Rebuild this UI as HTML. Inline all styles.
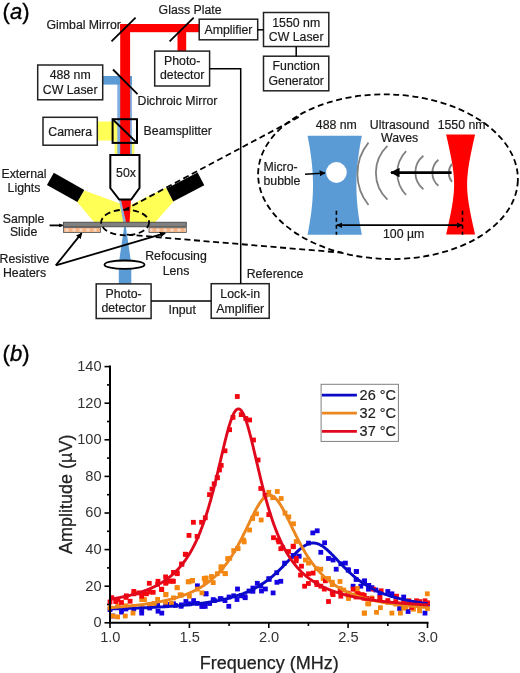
<!DOCTYPE html>
<html><head><meta charset="utf-8"><style>
html,body{margin:0;padding:0;background:#fff;}
svg{display:block;}
text{font-family:"Liberation Sans",Arial,sans-serif;}
</style></head><body>
<svg width="520" height="673" viewBox="0 0 520 673">
<rect width="520" height="673" fill="#fff"/>

<text x="2.6" y="18.9" font-size="22" stroke="#000" stroke-width="0.35">(<tspan font-style="italic">a</tspan>)</text>

<!-- yellow light beams -->
<polygon points="84.4,190.6 118.4,203 125,205.5 125,222.5 94.5,222.5 76.9,201.7" fill="#FFFF55"/>
<polygon points="166,187.7 131.5,204.5 125,206 125,222.5 155,222.5 173.5,201.5" fill="#FFFF55"/>
<!-- camera yellow -->
<rect x="97" y="121.5" width="23" height="19" fill="#FFFF55"/>
<rect x="114.6" y="121.5" width="5.5" height="34" fill="#FFFF66"/>
<rect x="130" y="143" width="4.4" height="13" fill="#FFFF66"/>
<!-- blue beam -->
<rect x="102.7" y="76" width="28.8" height="8.6" fill="#5B9BD5"/>
<rect x="117.3" y="84" width="14.6" height="72" fill="#7FAEE0"/>
<rect x="117.3" y="76" width="14.6" height="8.6" fill="#5B9BD5"/>
<!-- red beams -->
<rect x="120.2" y="24" width="79" height="8.2" fill="#FF0000"/>
<rect x="120.2" y="24" width="9.9" height="132" fill="#FF0000"/>
<rect x="177.5" y="24" width="8.7" height="27.5" fill="#FF0000"/>
<!-- cone under objective -->
<polygon points="118.8,199 122,199 126.2,222 123.2,222" fill="#8FB0D8"/>
<polygon points="120.8,199 131,199 129.6,222 126,222" fill="#FF0000"/>
<!-- blue after slide -->
<polygon points="124.1,227 125.9,227 131,262 119,262" fill="#5B9BD5"/>
<rect x="118.8" y="262" width="12.5" height="22" fill="#5B9BD5"/>

<!-- mirrors -->
<g stroke="#000" stroke-width="1.8" fill="none">
<line x1="111.5" y1="41.3" x2="135.6" y2="17.7"/>
<line x1="169.6" y1="41.3" x2="193.7" y2="17.7"/>
<line x1="113" y1="69.5" x2="137.5" y2="94.2"/>
</g>
<!-- beamsplitter -->
<g stroke="#000" stroke-width="2" fill="none">
<rect x="112.6" y="119.2" width="24.4" height="23.7"/>
<line x1="112.6" y1="119.2" x2="137" y2="142.9"/>
</g>

<!-- boxes -->
<g stroke="#222" stroke-width="1.5" fill="#fff">
<rect x="199.2" y="19.2" width="58.5" height="20.6"/>
<rect x="263.5" y="12.5" width="65.3" height="34"/>
<rect x="263.5" y="56.2" width="65.3" height="34.6"/>
<rect x="154.7" y="51.1" width="54.9" height="34.9"/>
<rect x="37.7" y="65" width="65" height="34.8"/>
<rect x="43" y="117.3" width="54.3" height="27.9"/>
<rect x="96.2" y="283.9" width="54.9" height="34.6"/>
<rect x="211.2" y="283.7" width="58" height="34.6"/>
</g>
<g stroke="#000" stroke-width="1.5" fill="none">
<line x1="257.7" y1="29.8" x2="263.5" y2="29.8"/>
<line x1="296.2" y1="46.5" x2="296.2" y2="56.2"/>
<polyline points="209.6,68.7 240.7,68.7 240.7,283.7"/>
<line x1="151.1" y1="300.9" x2="211.2" y2="300.9"/>
</g>

<!-- objective -->
<path d="M110.3,155 L139.5,155 L139.5,188 L131.2,199.6 L119.2,199.6 L110.3,188 Z" fill="#fff" stroke="#000" stroke-width="2"/>

<!-- external lights -->
<rect x="-17.5" y="-7" width="35" height="14" fill="#000" transform="translate(65.6,187.4) rotate(29.5)"/>
<rect x="-17.5" y="-7" width="35" height="14.5" fill="#000" transform="translate(185.3,186.7) rotate(-27.5)"/>

<!-- slide and heaters -->
<defs>
<pattern id="ht" x="63.5" y="227.5" width="7" height="5" patternUnits="userSpaceOnUse">
<rect width="7" height="5" fill="#F4B183"/>
<circle cx="3.5" cy="2.6" r="1.8" fill="#FBD9C0"/>
</pattern>
</defs>
<rect x="63.5" y="222.2" width="122.8" height="4.6" fill="#808080" stroke="#404040" stroke-width="0.8"/>
<rect x="63.5" y="227.5" width="36.9" height="5" fill="url(#ht)" stroke="#505050" stroke-width="0.8"/>
<rect x="149" y="227.7" width="37.3" height="4.8" fill="url(#ht)" stroke="#505050" stroke-width="0.8"/>

<!-- lens -->
<ellipse cx="124.5" cy="264.7" rx="20" ry="4.2" fill="#fff" stroke="#000" stroke-width="1.8"/>

<!-- arrows -->
<defs>
<marker id="ah" viewBox="0 0 10 10" refX="9" refY="5" markerWidth="4" markerHeight="4" orient="auto-start-reverse" markerUnits="userSpaceOnUse">
<path d="M0,0 L10,5 L0,10 z" fill="#000"/>
</marker>
<marker id="ahb" viewBox="0 0 10 10" refX="9" refY="5" markerWidth="9.5" markerHeight="9.5" orient="auto-start-reverse" markerUnits="userSpaceOnUse">
<path d="M0,0 L10,5 L0,10 z" fill="#000"/>
</marker>
<marker id="ahm" viewBox="0 0 10 10" refX="9" refY="5" markerWidth="6" markerHeight="6" orient="auto-start-reverse" markerUnits="userSpaceOnUse">
<path d="M0,0 L10,5 L0,10 z" fill="#000"/>
</marker>
</defs>
<g stroke="#000" stroke-width="1.8" fill="none">
<line x1="49.6" y1="225.4" x2="62.7" y2="225.4" marker-end="url(#ah)"/>
<line x1="55.8" y1="265.4" x2="81.7" y2="233.1" marker-end="url(#ahm)"/>
<line x1="55.8" y1="265.4" x2="165.2" y2="233.1" marker-end="url(#ahm)"/>
</g>

<!-- dashed ellipses / lines -->
<g stroke="#000" stroke-width="1.8" fill="none" stroke-dasharray="6,3.6">
<ellipse cx="125.1" cy="222.5" rx="24" ry="12.8"/>
<line x1="124" y1="210.2" x2="300" y2="116.4"/>
<line x1="127" y1="234.6" x2="342" y2="252.7"/>
<ellipse cx="0" cy="0" rx="129.9" ry="82.3" transform="translate(388,176.7) rotate(1.68)"/>
</g>

<!-- inset: 488 beam -->
<polygon points="307.54,135.70 308.02,138.17 308.49,140.65 308.94,143.12 309.37,145.60 309.78,148.07 310.17,150.55 310.54,153.02 310.89,155.50 311.21,157.97 311.51,160.45 311.79,162.92 312.04,165.40 312.26,167.88 312.45,170.35 312.62,172.82 312.76,175.30 312.86,177.77 312.94,180.25 312.98,182.72 313.00,185.20 312.98,187.67 312.94,190.15 312.86,192.62 312.76,195.10 312.62,197.57 312.45,200.05 312.26,202.52 312.04,205.00 311.79,207.47 311.51,209.95 311.21,212.42 310.89,214.90 310.54,217.38 310.17,219.85 309.78,222.32 309.37,224.80 308.94,227.27 308.49,229.75 308.02,232.22 307.54,234.70 361.86,234.70 361.38,232.22 360.91,229.75 360.46,227.27 360.03,224.80 359.62,222.32 359.23,219.85 358.86,217.38 358.51,214.90 358.19,212.42 357.89,209.95 357.61,207.47 357.36,205.00 357.14,202.52 356.95,200.05 356.78,197.57 356.64,195.10 356.54,192.62 356.46,190.15 356.42,187.67 356.40,185.20 356.42,182.72 356.46,180.25 356.54,177.77 356.64,175.30 356.78,172.82 356.95,170.35 357.14,167.88 357.36,165.40 357.61,162.92 357.89,160.45 358.19,157.97 358.51,155.50 358.86,153.02 359.23,150.55 359.62,148.07 360.03,145.60 360.46,143.12 360.91,140.65 361.38,138.17 361.86,135.70" fill="#5B9BD5"/>
<circle cx="336.4" cy="172.5" r="10.4" fill="#fff"/>
<!-- inset: 1550 beam -->
<polygon points="446.11,134.60 446.69,137.10 447.25,139.60 447.82,142.10 448.37,144.60 448.91,147.10 449.45,149.60 449.96,152.10 450.47,154.60 450.96,157.10 451.43,159.60 451.87,162.10 452.29,164.60 452.68,167.10 453.03,169.60 453.34,172.10 453.60,174.60 453.82,177.10 453.97,179.60 454.07,182.10 454.10,184.60 454.07,187.10 453.97,189.60 453.82,192.10 453.60,194.60 453.34,197.10 453.03,199.60 452.68,202.10 452.29,204.60 451.87,207.10 451.43,209.60 450.96,212.10 450.47,214.60 449.96,217.10 449.45,219.60 448.91,222.10 448.37,224.60 447.82,227.10 447.25,229.60 446.69,232.10 446.11,234.60 475.09,234.60 474.51,232.10 473.95,229.60 473.38,227.10 472.83,224.60 472.29,222.10 471.75,219.60 471.24,217.10 470.73,214.60 470.24,212.10 469.77,209.60 469.33,207.10 468.91,204.60 468.52,202.10 468.17,199.60 467.86,197.10 467.60,194.60 467.38,192.10 467.23,189.60 467.13,187.10 467.10,184.60 467.13,182.10 467.23,179.60 467.38,177.10 467.60,174.60 467.86,172.10 468.17,169.60 468.52,167.10 468.91,164.60 469.33,162.10 469.77,159.60 470.24,157.10 470.73,154.60 471.24,152.10 471.75,149.60 472.29,147.10 472.83,144.60 473.38,142.10 473.95,139.60 474.51,137.10 475.09,134.60" fill="#FF0000"/>
<!-- waves -->
<g stroke="#808080" stroke-width="1.8" fill="none">
<path d="M368.5,142.6 A49.4,49.4 0 0 0 368.5,205"/>
<path d="M387.4,145.9 A37.2,37.2 0 0 0 387.4,199.7"/>
<path d="M406.1,151.2 A31.6,31.6 0 0 0 406.1,195"/>
<path d="M423.4,155.8 A21.5,21.5 0 0 0 423.4,189.3"/>
<path d="M438.4,159.7 A17.1,17.1 0 0 0 438.4,185.8"/>
<path d="M452,163.9 A14.3,14.3 0 0 0 452,181.9"/>
</g>
<line x1="305" y1="174.2" x2="325" y2="173" stroke="#000" stroke-width="1.6" marker-end="url(#ahm)"/>
<line x1="451.6" y1="172.6" x2="391" y2="172.6" stroke="#000" stroke-width="2.6" marker-end="url(#ahb)"/>
<g stroke="#000" stroke-width="1.6" fill="none">
<line x1="336.4" y1="210.8" x2="336.4" y2="234.7" stroke-dasharray="4,3"/>
<line x1="462.5" y1="210.8" x2="462.5" y2="234.7" stroke-dasharray="4,3"/>
<line x1="337" y1="225.2" x2="462" y2="225.2" stroke-width="1.8" marker-start="url(#ahm)" marker-end="url(#ahm)"/>
</g>

<!-- labels -->
<g font-size="12.3" fill="#1a1a1a" stroke="#1a1a1a" stroke-width="0.2">
<text x="46.5" y="29.2">Gimbal Mirror</text>
<text x="158.6" y="13.8">Glass Plate</text>
<text x="228.5" y="33.7" text-anchor="middle">Amplifier</text>
<text x="296.2" y="26.5" text-anchor="middle">1550 nm</text>
<text x="296.2" y="41.3" text-anchor="middle">CW Laser</text>
<text x="296.2" y="70.2" text-anchor="middle">Function</text>
<text x="296.2" y="85.2" text-anchor="middle">Generator</text>
<text x="182.2" y="64.8" text-anchor="middle">Photo-</text>
<text x="182.2" y="79.4" text-anchor="middle">detector</text>
<text x="70.2" y="79" text-anchor="middle">488 nm</text>
<text x="70.2" y="93.5" text-anchor="middle">CW Laser</text>
<text x="137.5" y="105.2">Dichroic Mirror</text>
<text x="70.2" y="135.6" text-anchor="middle">Camera</text>
<text x="143.6" y="134.8">Beamsplitter</text>
<text x="126" y="177.3" text-anchor="middle">50x</text>
<text x="24" y="177.7" text-anchor="middle">External</text>
<text x="24" y="191.7" text-anchor="middle">Lights</text>
<text x="23.6" y="222.5" text-anchor="middle">Sample</text>
<text x="23.6" y="236" text-anchor="middle">Slide</text>
<text x="24.5" y="262.5" text-anchor="middle">Resistive</text>
<text x="24.5" y="277.3" text-anchor="middle">Heaters</text>
<text x="176" y="259.6" text-anchor="middle">Refocusing</text>
<text x="176" y="274.7" text-anchor="middle">Lens</text>
<text x="123.6" y="297.7" text-anchor="middle">Photo-</text>
<text x="123.6" y="312.3" text-anchor="middle">detector</text>
<text x="168.5" y="313.9">Input</text>
<text x="246.7" y="277.5">Reference</text>
<text x="240.2" y="297.7" text-anchor="middle">Lock-in</text>
<text x="240.2" y="312.5" text-anchor="middle">Amplifier</text>
<text x="315.8" y="128.8">488 nm</text>
<text x="399.6" y="128.8" text-anchor="middle">Ultrasound</text>
<text x="399.6" y="141.9" text-anchor="middle">Waves</text>
<text x="437.7" y="128.8">1550 nm</text>
<text x="263.5" y="170.8">Micro-</text>
<text x="263.5" y="184.6">bubble</text>
<text x="383" y="237.5">100 µm</text>
</g>

<text x="2.6" y="361.4" font-size="22" stroke="#000" stroke-width="0.35">(<tspan font-style="italic">b</tspan>)</text>
<g fill="#1400E0"><rect x="110.4" y="613.6" width="4.8" height="4.8"/><rect x="119.1" y="609.7" width="4.8" height="4.8"/><rect x="139.3" y="610.7" width="4.8" height="4.8"/><rect x="155.6" y="608.8" width="4.8" height="4.8"/><rect x="159.4" y="610.7" width="4.8" height="4.8"/><rect x="167.1" y="602.0" width="4.8" height="4.8"/><rect x="172.9" y="603.0" width="4.8" height="4.8"/><rect x="178.7" y="603.9" width="4.8" height="4.8"/><rect x="183.5" y="599.1" width="4.8" height="4.8"/><rect x="191.2" y="598.2" width="4.8" height="4.8"/><rect x="195.0" y="583.4" width="4.8" height="4.8"/><rect x="199.8" y="603.9" width="4.8" height="4.8"/><rect x="203.7" y="591.4" width="4.8" height="4.8"/><rect x="199.5" y="603.9" width="4.8" height="4.8"/><rect x="203.4" y="591.4" width="4.8" height="4.8"/><rect x="207.2" y="601.1" width="4.8" height="4.8"/><rect x="212.0" y="598.2" width="4.8" height="4.8"/><rect x="217.8" y="596.3" width="4.8" height="4.8"/><rect x="222.6" y="598.2" width="4.8" height="4.8"/><rect x="226.4" y="603.9" width="4.8" height="4.8"/><rect x="231.3" y="593.4" width="4.8" height="4.8"/><rect x="235.1" y="586.6" width="4.8" height="4.8"/><rect x="238.9" y="593.4" width="4.8" height="4.8"/><rect x="242.8" y="595.3" width="4.8" height="4.8"/><rect x="246.6" y="588.6" width="4.8" height="4.8"/><rect x="250.5" y="585.7" width="4.8" height="4.8"/><rect x="254.9" y="580.9" width="4.8" height="4.8"/><rect x="259.1" y="588.6" width="4.8" height="4.8"/><rect x="263.0" y="586.6" width="4.8" height="4.8"/><rect x="266.8" y="577.0" width="4.8" height="4.8"/><rect x="270.7" y="590.5" width="4.8" height="4.8"/><rect x="274.5" y="579.9" width="4.8" height="4.8"/><rect x="278.4" y="578.9" width="4.8" height="4.8"/><rect x="282.2" y="560.7" width="4.8" height="4.8"/><rect x="291.8" y="553.9" width="4.8" height="4.8"/><rect x="290.7" y="553.0" width="4.8" height="4.8"/><rect x="296.8" y="553.8" width="4.8" height="4.8"/><rect x="306.1" y="540.7" width="4.8" height="4.8"/><rect x="322.2" y="540.4" width="4.8" height="4.8"/><rect x="318.4" y="549.9" width="4.8" height="4.8"/><rect x="326.1" y="556.1" width="4.8" height="4.8"/><rect x="330.7" y="557.6" width="4.8" height="4.8"/><rect x="333.8" y="566.8" width="4.8" height="4.8"/><rect x="338.4" y="561.4" width="4.8" height="4.8"/><rect x="343.0" y="560.7" width="4.8" height="4.8"/><rect x="346.1" y="567.6" width="4.8" height="4.8"/><rect x="353.8" y="569.1" width="4.8" height="4.8"/><rect x="350.7" y="583.8" width="4.8" height="4.8"/><rect x="358.4" y="583.8" width="4.8" height="4.8"/><rect x="362.2" y="578.4" width="4.8" height="4.8"/><rect x="366.1" y="586.8" width="4.8" height="4.8"/><rect x="354.1" y="569.1" width="4.8" height="4.8"/><rect x="361.8" y="579.1" width="4.8" height="4.8"/><rect x="366.4" y="583.0" width="4.8" height="4.8"/><rect x="373.4" y="587.6" width="4.8" height="4.8"/><rect x="389.5" y="591.4" width="4.8" height="4.8"/><rect x="397.2" y="606.1" width="4.8" height="4.8"/><rect x="405.7" y="609.1" width="4.8" height="4.8"/><rect x="422.6" y="610.7" width="4.8" height="4.8"/><rect x="310.4" y="530.5" width="4.8" height="4.8"/><rect x="314.8" y="528.4" width="4.8" height="4.8"/><rect x="107.6" y="607.2" width="4.8" height="4.8"/><rect x="115.5" y="605.2" width="4.8" height="4.8"/><rect x="123.5" y="606.6" width="4.8" height="4.8"/><rect x="131.4" y="606.5" width="4.8" height="4.8"/><rect x="139.3" y="607.6" width="4.8" height="4.8"/><rect x="147.3" y="605.6" width="4.8" height="4.8"/><rect x="155.2" y="602.3" width="4.8" height="4.8"/><rect x="163.2" y="603.3" width="4.8" height="4.8"/><rect x="171.1" y="601.4" width="4.8" height="4.8"/><rect x="179.0" y="602.5" width="4.8" height="4.8"/><rect x="187.0" y="601.4" width="4.8" height="4.8"/><rect x="194.9" y="601.0" width="4.8" height="4.8"/><rect x="202.8" y="604.0" width="4.8" height="4.8"/><rect x="210.8" y="597.2" width="4.8" height="4.8"/><rect x="218.7" y="596.4" width="4.8" height="4.8"/><rect x="226.7" y="594.6" width="4.8" height="4.8"/><rect x="234.6" y="597.1" width="4.8" height="4.8"/><rect x="242.5" y="594.3" width="4.8" height="4.8"/><rect x="250.5" y="588.9" width="4.8" height="4.8"/><rect x="258.4" y="583.5" width="4.8" height="4.8"/><rect x="266.4" y="576.2" width="4.8" height="4.8"/><rect x="274.3" y="570.3" width="4.8" height="4.8"/><rect x="345.7" y="567.5" width="4.8" height="4.8"/><rect x="353.7" y="577.1" width="4.8" height="4.8"/><rect x="361.6" y="580.8" width="4.8" height="4.8"/><rect x="369.5" y="585.2" width="4.8" height="4.8"/><rect x="377.5" y="591.3" width="4.8" height="4.8"/><rect x="385.4" y="589.1" width="4.8" height="4.8"/><rect x="393.4" y="594.0" width="4.8" height="4.8"/><rect x="401.3" y="594.6" width="4.8" height="4.8"/><rect x="409.2" y="600.2" width="4.8" height="4.8"/><rect x="417.2" y="601.7" width="4.8" height="4.8"/><rect x="425.1" y="602.0" width="4.8" height="4.8"/></g>
<g fill="#F5870F"><rect x="110.4" y="613.6" width="4.8" height="4.8"/><rect x="115.2" y="614.5" width="4.8" height="4.8"/><rect x="122.9" y="613.6" width="4.8" height="4.8"/><rect x="130.6" y="610.7" width="4.8" height="4.8"/><rect x="139.3" y="597.2" width="4.8" height="4.8"/><rect x="142.1" y="597.2" width="4.8" height="4.8"/><rect x="151.8" y="601.1" width="4.8" height="4.8"/><rect x="163.3" y="592.4" width="4.8" height="4.8"/><rect x="169.1" y="601.1" width="4.8" height="4.8"/><rect x="174.8" y="585.3" width="4.8" height="4.8"/><rect x="177.7" y="592.4" width="4.8" height="4.8"/><rect x="186.4" y="579.5" width="4.8" height="4.8"/><rect x="190.2" y="578.0" width="4.8" height="4.8"/><rect x="201.8" y="576.1" width="4.8" height="4.8"/><rect x="199.5" y="590.5" width="4.8" height="4.8"/><rect x="203.4" y="576.1" width="4.8" height="4.8"/><rect x="209.1" y="574.1" width="4.8" height="4.8"/><rect x="214.9" y="571.3" width="4.8" height="4.8"/><rect x="219.7" y="564.5" width="4.8" height="4.8"/><rect x="222.6" y="571.3" width="4.8" height="4.8"/><rect x="227.4" y="555.9" width="4.8" height="4.8"/><rect x="231.3" y="548.2" width="4.8" height="4.8"/><rect x="235.1" y="546.3" width="4.8" height="4.8"/><rect x="241.8" y="539.5" width="4.8" height="4.8"/><rect x="293.8" y="539.1" width="4.8" height="4.8"/><rect x="303.0" y="557.6" width="4.8" height="4.8"/><rect x="306.1" y="560.7" width="4.8" height="4.8"/><rect x="318.4" y="566.8" width="4.8" height="4.8"/><rect x="320.7" y="576.1" width="4.8" height="4.8"/><rect x="326.1" y="576.1" width="4.8" height="4.8"/><rect x="329.9" y="582.2" width="4.8" height="4.8"/><rect x="337.6" y="579.1" width="4.8" height="4.8"/><rect x="341.4" y="587.6" width="4.8" height="4.8"/><rect x="346.1" y="596.1" width="4.8" height="4.8"/><rect x="353.8" y="586.8" width="4.8" height="4.8"/><rect x="362.2" y="610.7" width="4.8" height="4.8"/><rect x="365.3" y="601.4" width="4.8" height="4.8"/><rect x="354.9" y="586.1" width="4.8" height="4.8"/><rect x="366.4" y="601.4" width="4.8" height="4.8"/><rect x="361.8" y="610.7" width="4.8" height="4.8"/><rect x="374.1" y="609.9" width="4.8" height="4.8"/><rect x="378.0" y="605.3" width="4.8" height="4.8"/><rect x="389.5" y="610.7" width="4.8" height="4.8"/><rect x="398.0" y="610.7" width="4.8" height="4.8"/><rect x="403.4" y="604.5" width="4.8" height="4.8"/><rect x="411.1" y="606.8" width="4.8" height="4.8"/><rect x="417.2" y="608.4" width="4.8" height="4.8"/><rect x="424.9" y="591.4" width="4.8" height="4.8"/><rect x="266.4" y="489.9" width="4.8" height="4.8"/><rect x="274.9" y="489.1" width="4.8" height="4.8"/><rect x="270.3" y="495.3" width="4.8" height="4.8"/><rect x="278.8" y="496.1" width="4.8" height="4.8"/><rect x="282.6" y="510.7" width="4.8" height="4.8"/><rect x="286.4" y="514.5" width="4.8" height="4.8"/><rect x="254.1" y="511.4" width="4.8" height="4.8"/><rect x="258.8" y="517.6" width="4.8" height="4.8"/><rect x="250.3" y="516.1" width="4.8" height="4.8"/><rect x="247.2" y="527.6" width="4.8" height="4.8"/><rect x="241.1" y="537.6" width="4.8" height="4.8"/><rect x="235.7" y="546.1" width="4.8" height="4.8"/><rect x="291.1" y="521.4" width="4.8" height="4.8"/><rect x="189.5" y="578.6" width="4.8" height="4.8"/><rect x="185.8" y="579.3" width="4.8" height="4.8"/><rect x="174.7" y="585.3" width="4.8" height="4.8"/><rect x="163.6" y="592.0" width="4.8" height="4.8"/><rect x="203.7" y="575.6" width="4.8" height="4.8"/><rect x="218.5" y="564.5" width="4.8" height="4.8"/><rect x="225.2" y="556.3" width="4.8" height="4.8"/><rect x="223.0" y="571.2" width="4.8" height="4.8"/><rect x="107.6" y="605.5" width="4.8" height="4.8"/><rect x="115.5" y="603.3" width="4.8" height="4.8"/><rect x="123.5" y="603.4" width="4.8" height="4.8"/><rect x="131.4" y="604.1" width="4.8" height="4.8"/><rect x="139.3" y="604.3" width="4.8" height="4.8"/><rect x="147.3" y="602.2" width="4.8" height="4.8"/><rect x="155.2" y="597.0" width="4.8" height="4.8"/><rect x="163.2" y="599.8" width="4.8" height="4.8"/><rect x="171.1" y="595.5" width="4.8" height="4.8"/><rect x="179.0" y="592.7" width="4.8" height="4.8"/><rect x="187.0" y="593.9" width="4.8" height="4.8"/><rect x="194.9" y="586.7" width="4.8" height="4.8"/><rect x="202.8" y="579.1" width="4.8" height="4.8"/><rect x="210.8" y="580.2" width="4.8" height="4.8"/><rect x="218.7" y="568.6" width="4.8" height="4.8"/><rect x="314.0" y="566.2" width="4.8" height="4.8"/><rect x="321.9" y="576.2" width="4.8" height="4.8"/><rect x="329.9" y="579.8" width="4.8" height="4.8"/><rect x="337.8" y="586.1" width="4.8" height="4.8"/><rect x="345.7" y="593.1" width="4.8" height="4.8"/><rect x="353.7" y="591.3" width="4.8" height="4.8"/><rect x="361.6" y="594.2" width="4.8" height="4.8"/><rect x="369.5" y="595.6" width="4.8" height="4.8"/><rect x="377.5" y="596.2" width="4.8" height="4.8"/><rect x="385.4" y="600.0" width="4.8" height="4.8"/><rect x="393.4" y="601.7" width="4.8" height="4.8"/><rect x="401.3" y="605.8" width="4.8" height="4.8"/><rect x="409.2" y="602.4" width="4.8" height="4.8"/><rect x="417.2" y="605.9" width="4.8" height="4.8"/><rect x="425.1" y="606.1" width="4.8" height="4.8"/></g>
<g fill="#F5060F"><rect x="109.4" y="595.3" width="4.8" height="4.8"/><rect x="113.3" y="599.1" width="4.8" height="4.8"/><rect x="119.1" y="600.1" width="4.8" height="4.8"/><rect x="123.9" y="593.4" width="4.8" height="4.8"/><rect x="127.7" y="598.8" width="4.8" height="4.8"/><rect x="131.6" y="591.4" width="4.8" height="4.8"/><rect x="136.4" y="590.5" width="4.8" height="4.8"/><rect x="141.2" y="590.5" width="4.8" height="4.8"/><rect x="144.1" y="591.4" width="4.8" height="4.8"/><rect x="146.9" y="580.9" width="4.8" height="4.8"/><rect x="150.8" y="589.9" width="4.8" height="4.8"/><rect x="155.6" y="578.9" width="4.8" height="4.8"/><rect x="159.4" y="587.2" width="4.8" height="4.8"/><rect x="163.3" y="580.9" width="4.8" height="4.8"/><rect x="167.1" y="578.9" width="4.8" height="4.8"/><rect x="171.0" y="578.9" width="4.8" height="4.8"/><rect x="174.8" y="571.3" width="4.8" height="4.8"/><rect x="179.6" y="561.6" width="4.8" height="4.8"/><rect x="183.5" y="552.0" width="4.8" height="4.8"/><rect x="276.4" y="539.5" width="4.8" height="4.8"/><rect x="278.4" y="546.3" width="4.8" height="4.8"/><rect x="286.1" y="549.1" width="4.8" height="4.8"/><rect x="290.9" y="544.3" width="4.8" height="4.8"/><rect x="293.8" y="555.9" width="4.8" height="4.8"/><rect x="290.7" y="543.8" width="4.8" height="4.8"/><rect x="293.8" y="558.4" width="4.8" height="4.8"/><rect x="299.1" y="563.8" width="4.8" height="4.8"/><rect x="306.1" y="571.4" width="4.8" height="4.8"/><rect x="310.7" y="570.7" width="4.8" height="4.8"/><rect x="302.2" y="583.8" width="4.8" height="4.8"/><rect x="314.5" y="582.2" width="4.8" height="4.8"/><rect x="318.4" y="583.8" width="4.8" height="4.8"/><rect x="323.0" y="578.4" width="4.8" height="4.8"/><rect x="330.7" y="592.2" width="4.8" height="4.8"/><rect x="326.1" y="599.1" width="4.8" height="4.8"/><rect x="338.4" y="593.8" width="4.8" height="4.8"/><rect x="350.7" y="586.8" width="4.8" height="4.8"/><rect x="355.3" y="591.4" width="4.8" height="4.8"/><rect x="359.9" y="592.2" width="4.8" height="4.8"/><rect x="364.5" y="596.1" width="4.8" height="4.8"/><rect x="355.7" y="591.4" width="4.8" height="4.8"/><rect x="361.8" y="593.0" width="4.8" height="4.8"/><rect x="371.1" y="586.8" width="4.8" height="4.8"/><rect x="378.8" y="588.4" width="4.8" height="4.8"/><rect x="394.1" y="593.8" width="4.8" height="4.8"/><rect x="406.4" y="598.4" width="4.8" height="4.8"/><rect x="414.1" y="598.4" width="4.8" height="4.8"/><rect x="422.6" y="598.4" width="4.8" height="4.8"/><rect x="423.4" y="602.2" width="4.8" height="4.8"/><rect x="234.9" y="394.1" width="4.8" height="4.8"/><rect x="230.6" y="415.0" width="4.8" height="4.8"/><rect x="227.2" y="427.3" width="4.8" height="4.8"/><rect x="222.6" y="448.4" width="4.8" height="4.8"/><rect x="218.8" y="463.0" width="4.8" height="4.8"/><rect x="214.9" y="475.3" width="4.8" height="4.8"/><rect x="238.8" y="412.2" width="4.8" height="4.8"/><rect x="243.4" y="416.1" width="4.8" height="4.8"/><rect x="247.2" y="417.6" width="4.8" height="4.8"/><rect x="251.1" y="437.6" width="4.8" height="4.8"/><rect x="255.7" y="457.6" width="4.8" height="4.8"/><rect x="258.4" y="486.1" width="4.8" height="4.8"/><rect x="262.6" y="493.0" width="4.8" height="4.8"/><rect x="266.4" y="512.2" width="4.8" height="4.8"/><rect x="271.1" y="535.3" width="4.8" height="4.8"/><rect x="275.7" y="537.6" width="4.8" height="4.8"/><rect x="280.3" y="545.3" width="4.8" height="4.8"/><rect x="202.9" y="515.4" width="4.8" height="4.8"/><rect x="199.2" y="519.9" width="4.8" height="4.8"/><rect x="191.0" y="519.9" width="4.8" height="4.8"/><rect x="194.7" y="534.0" width="4.8" height="4.8"/><rect x="186.6" y="533.0" width="4.8" height="4.8"/><rect x="182.9" y="551.8" width="4.8" height="4.8"/><rect x="179.1" y="561.8" width="4.8" height="4.8"/><rect x="174.7" y="570.4" width="4.8" height="4.8"/><rect x="170.2" y="578.6" width="4.8" height="4.8"/><rect x="163.6" y="580.1" width="4.8" height="4.8"/><rect x="159.1" y="586.8" width="4.8" height="4.8"/><rect x="207.1" y="492.2" width="4.8" height="4.8"/><rect x="209.6" y="486.6" width="4.8" height="4.8"/><rect x="211.8" y="481.4" width="4.8" height="4.8"/><rect x="214.8" y="475.3" width="4.8" height="4.8"/><rect x="217.1" y="467.6" width="4.8" height="4.8"/><rect x="107.6" y="599.6" width="4.8" height="4.8"/><rect x="115.5" y="597.6" width="4.8" height="4.8"/><rect x="123.5" y="595.0" width="4.8" height="4.8"/><rect x="131.4" y="589.0" width="4.8" height="4.8"/><rect x="139.3" y="593.9" width="4.8" height="4.8"/><rect x="147.3" y="589.6" width="4.8" height="4.8"/><rect x="155.2" y="582.0" width="4.8" height="4.8"/><rect x="163.2" y="574.5" width="4.8" height="4.8"/><rect x="171.1" y="570.0" width="4.8" height="4.8"/><rect x="298.1" y="572.7" width="4.8" height="4.8"/><rect x="306.0" y="581.1" width="4.8" height="4.8"/><rect x="314.0" y="580.1" width="4.8" height="4.8"/><rect x="321.9" y="586.7" width="4.8" height="4.8"/><rect x="329.9" y="590.8" width="4.8" height="4.8"/><rect x="337.8" y="588.9" width="4.8" height="4.8"/><rect x="345.7" y="590.8" width="4.8" height="4.8"/><rect x="353.7" y="594.6" width="4.8" height="4.8"/><rect x="361.6" y="595.9" width="4.8" height="4.8"/><rect x="369.5" y="596.7" width="4.8" height="4.8"/><rect x="377.5" y="595.2" width="4.8" height="4.8"/><rect x="385.4" y="598.2" width="4.8" height="4.8"/><rect x="393.4" y="599.2" width="4.8" height="4.8"/><rect x="401.3" y="599.8" width="4.8" height="4.8"/><rect x="409.2" y="605.0" width="4.8" height="4.8"/><rect x="417.2" y="599.2" width="4.8" height="4.8"/><rect x="425.1" y="600.4" width="4.8" height="4.8"/></g>
<polyline points="110.00,608.99 110.79,608.97 111.59,608.95 112.38,608.93 113.17,608.91 113.97,608.88 114.76,608.86 115.56,608.84 116.35,608.81 117.14,608.79 117.94,608.77 118.73,608.74 119.53,608.72 120.32,608.70 121.11,608.67 121.91,608.65 122.70,608.62 123.49,608.59 124.29,608.57 125.08,608.54 125.88,608.52 126.67,608.49 127.46,608.46 128.26,608.43 129.05,608.41 129.84,608.38 130.64,608.35 131.43,608.32 132.23,608.29 133.02,608.26 133.81,608.23 134.61,608.20 135.40,608.17 136.19,608.14 136.99,608.11 137.78,608.08 138.57,608.05 139.37,608.01 140.16,607.98 140.96,607.95 141.75,607.91 142.54,607.88 143.34,607.84 144.13,607.81 144.93,607.77 145.72,607.74 146.51,607.70 147.31,607.66 148.10,607.62 148.89,607.59 149.69,607.55 150.48,607.51 151.28,607.47 152.07,607.43 152.86,607.39 153.66,607.35 154.45,607.31 155.24,607.26 156.04,607.22 156.83,607.18 157.62,607.13 158.42,607.09 159.21,607.04 160.01,606.99 160.80,606.95 161.59,606.90 162.39,606.85 163.18,606.80 163.98,606.75 164.77,606.70 165.56,606.65 166.36,606.60 167.15,606.55 167.94,606.50 168.74,606.44 169.53,606.39 170.32,606.33 171.12,606.27 171.91,606.22 172.71,606.16 173.50,606.10 174.29,606.04 175.09,605.98 175.88,605.92 176.67,605.85 177.47,605.79 178.26,605.72 179.06,605.66 179.85,605.59 180.64,605.52 181.44,605.45 182.23,605.38 183.02,605.31 183.82,605.24 184.61,605.17 185.41,605.09 186.20,605.02 186.99,604.94 187.79,604.86 188.58,604.78 189.38,604.70 190.17,604.62 190.96,604.53 191.76,604.45 192.55,604.36 193.34,604.27 194.14,604.18 194.93,604.09 195.73,604.00 196.52,603.90 197.31,603.81 198.11,603.71 198.90,603.61 199.69,603.51 200.49,603.41 201.28,603.30 202.08,603.19 202.87,603.09 203.66,602.98 204.46,602.86 205.25,602.75 206.04,602.63 206.84,602.51 207.63,602.39 208.43,602.27 209.22,602.14 210.01,602.01 210.81,601.88 211.60,601.75 212.39,601.61 213.19,601.48 213.98,601.33 214.78,601.19 215.57,601.05 216.36,600.90 217.16,600.74 217.95,600.59 218.74,600.43 219.54,600.27 220.33,600.10 221.12,599.94 221.92,599.77 222.71,599.59 223.51,599.41 224.30,599.23 225.09,599.05 225.89,598.86 226.68,598.66 227.47,598.47 228.27,598.26 229.06,598.06 229.86,597.85 230.65,597.63 231.44,597.42 232.24,597.19 233.03,596.96 233.82,596.73 234.62,596.49 235.41,596.25 236.21,596.00 237.00,595.75 237.79,595.49 238.59,595.22 239.38,594.95 240.17,594.67 240.97,594.39 241.76,594.10 242.56,593.81 243.35,593.50 244.14,593.20 244.94,592.88 245.73,592.56 246.52,592.23 247.32,591.89 248.11,591.54 248.91,591.19 249.70,590.83 250.49,590.46 251.29,590.09 252.08,589.70 252.88,589.31 253.67,588.90 254.46,588.49 255.26,588.07 256.05,587.64 256.84,587.20 257.64,586.75 258.43,586.29 259.23,585.82 260.02,585.34 260.81,584.84 261.61,584.34 262.40,583.83 263.19,583.30 263.99,582.77 264.78,582.22 265.57,581.66 266.37,581.09 267.16,580.51 267.96,579.91 268.75,579.31 269.54,578.69 270.34,578.06 271.13,577.42 271.93,576.76 272.72,576.09 273.51,575.41 274.31,574.72 275.10,574.02 275.89,573.30 276.69,572.57 277.48,571.84 278.27,571.09 279.07,570.33 279.86,569.55 280.66,568.77 281.45,567.98 282.24,567.18 283.04,566.37 283.83,565.56 284.62,564.74 285.42,563.91 286.21,563.07 287.01,562.24 287.80,561.39 288.59,560.55 289.39,559.71 290.18,558.87 290.97,558.03 291.77,557.19 292.56,556.36 293.36,555.54 294.15,554.72 294.94,553.92 295.74,553.13 296.53,552.35 297.32,551.59 298.12,550.85 298.91,550.13 299.71,549.43 300.50,548.76 301.29,548.11 302.09,547.50 302.88,546.92 303.67,546.37 304.47,545.85 305.26,545.38 306.06,544.94 306.85,544.54 307.64,544.19 308.44,543.88 309.23,543.62 310.02,543.40 310.82,543.23 311.61,543.11 312.41,543.04 313.20,543.01 313.99,543.04 314.79,543.11 315.58,543.23 316.38,543.40 317.17,543.62 317.96,543.88 318.76,544.19 319.55,544.54 320.34,544.94 321.14,545.38 321.93,545.85 322.72,546.37 323.52,546.92 324.31,547.50 325.11,548.11 325.90,548.76 326.69,549.43 327.49,550.13 328.28,550.85 329.07,551.59 329.87,552.35 330.66,553.13 331.46,553.92 332.25,554.72 333.04,555.54 333.84,556.36 334.63,557.19 335.42,558.03 336.22,558.87 337.01,559.71 337.81,560.55 338.60,561.39 339.39,562.24 340.19,563.07 340.98,563.91 341.77,564.74 342.57,565.56 343.36,566.37 344.16,567.18 344.95,567.98 345.74,568.77 346.54,569.55 347.33,570.33 348.12,571.09 348.92,571.84 349.71,572.57 350.51,573.30 351.30,574.02 352.09,574.72 352.89,575.41 353.68,576.09 354.48,576.76 355.27,577.42 356.06,578.06 356.86,578.69 357.65,579.31 358.44,579.91 359.24,580.51 360.03,581.09 360.83,581.66 361.62,582.22 362.41,582.77 363.21,583.30 364.00,583.83 364.79,584.34 365.59,584.84 366.38,585.34 367.18,585.82 367.97,586.29 368.76,586.75 369.56,587.20 370.35,587.64 371.14,588.07 371.94,588.49 372.73,588.90 373.53,589.31 374.32,589.70 375.11,590.09 375.91,590.46 376.70,590.83 377.49,591.19 378.29,591.54 379.08,591.89 379.88,592.23 380.67,592.56 381.46,592.88 382.26,593.20 383.05,593.50 383.84,593.81 384.64,594.10 385.43,594.39 386.23,594.67 387.02,594.95 387.81,595.22 388.61,595.49 389.40,595.75 390.19,596.00 390.99,596.25 391.78,596.49 392.58,596.73 393.37,596.96 394.16,597.19 394.96,597.42 395.75,597.63 396.54,597.85 397.34,598.06 398.13,598.26 398.93,598.47 399.72,598.66 400.51,598.86 401.31,599.05 402.10,599.23 402.89,599.41 403.69,599.59 404.48,599.77 405.28,599.94 406.07,600.10 406.86,600.27 407.66,600.43 408.45,600.59 409.24,600.74 410.04,600.90 410.83,601.05 411.62,601.19 412.42,601.33 413.21,601.48 414.01,601.61 414.80,601.75 415.59,601.88 416.39,602.01 417.18,602.14 417.97,602.27 418.77,602.39 419.56,602.51 420.36,602.63 421.15,602.75 421.94,602.86 422.74,602.98 423.53,603.09 424.32,603.19 425.12,603.30 425.91,603.41 426.71,603.51 427.50,603.61" fill="none" stroke="#0A0AC8" stroke-width="2.9" stroke-linejoin="round"/>
<polyline points="110.00,607.66 110.79,607.60 111.59,607.54 112.38,607.49 113.17,607.43 113.97,607.37 114.76,607.31 115.56,607.24 116.35,607.18 117.14,607.12 117.94,607.05 118.73,606.99 119.53,606.92 120.32,606.85 121.11,606.78 121.91,606.71 122.70,606.64 123.49,606.57 124.29,606.50 125.08,606.42 125.88,606.35 126.67,606.27 127.46,606.20 128.26,606.12 129.05,606.04 129.84,605.96 130.64,605.87 131.43,605.79 132.23,605.70 133.02,605.62 133.81,605.53 134.61,605.44 135.40,605.35 136.19,605.26 136.99,605.16 137.78,605.07 138.57,604.97 139.37,604.87 140.16,604.77 140.96,604.67 141.75,604.57 142.54,604.46 143.34,604.36 144.13,604.25 144.93,604.14 145.72,604.03 146.51,603.91 147.31,603.80 148.10,603.68 148.89,603.56 149.69,603.43 150.48,603.31 151.28,603.18 152.07,603.05 152.86,602.92 153.66,602.79 154.45,602.65 155.24,602.51 156.04,602.37 156.83,602.23 157.62,602.08 158.42,601.93 159.21,601.78 160.01,601.62 160.80,601.47 161.59,601.30 162.39,601.14 163.18,600.97 163.98,600.80 164.77,600.63 165.56,600.45 166.36,600.27 167.15,600.09 167.94,599.90 168.74,599.71 169.53,599.51 170.32,599.31 171.12,599.11 171.91,598.90 172.71,598.69 173.50,598.47 174.29,598.25 175.09,598.02 175.88,597.79 176.67,597.56 177.47,597.32 178.26,597.07 179.06,596.82 179.85,596.57 180.64,596.31 181.44,596.04 182.23,595.77 183.02,595.49 183.82,595.20 184.61,594.91 185.41,594.61 186.20,594.31 186.99,593.99 187.79,593.68 188.58,593.35 189.38,593.02 190.17,592.67 190.96,592.33 191.76,591.97 192.55,591.60 193.34,591.23 194.14,590.85 194.93,590.45 195.73,590.05 196.52,589.64 197.31,589.22 198.11,588.79 198.90,588.35 199.69,587.89 200.49,587.43 201.28,586.95 202.08,586.47 202.87,585.97 203.66,585.46 204.46,584.93 205.25,584.40 206.04,583.85 206.84,583.28 207.63,582.70 208.43,582.11 209.22,581.50 210.01,580.88 210.81,580.24 211.60,579.58 212.39,578.91 213.19,578.22 213.98,577.51 214.78,576.78 215.57,576.04 216.36,575.27 217.16,574.49 217.95,573.68 218.74,572.86 219.54,572.01 220.33,571.14 221.12,570.25 221.92,569.34 222.71,568.40 223.51,567.44 224.30,566.46 225.09,565.45 225.89,564.42 226.68,563.36 227.47,562.28 228.27,561.17 229.06,560.03 229.86,558.86 230.65,557.67 231.44,556.46 232.24,555.21 233.03,553.94 233.82,552.64 234.62,551.31 235.41,549.95 236.21,548.57 237.00,547.16 237.79,545.73 238.59,544.27 239.38,542.78 240.17,541.27 240.97,539.74 241.76,538.19 242.56,536.61 243.35,535.02 244.14,533.41 244.94,531.79 245.73,530.15 246.52,528.51 247.32,526.86 248.11,525.20 248.91,523.54 249.70,521.89 250.49,520.24 251.29,518.60 252.08,516.98 252.88,515.38 253.67,513.80 254.46,512.25 255.26,510.74 256.05,509.26 256.84,507.83 257.64,506.45 258.43,505.13 259.23,503.87 260.02,502.67 260.81,501.55 261.61,500.50 262.40,499.54 263.19,498.67 263.99,497.88 264.78,497.20 265.57,496.61 266.37,496.12 267.16,495.74 267.96,495.47 268.75,495.30 269.54,495.25 270.34,495.30 271.13,495.47 271.93,495.74 272.72,496.12 273.51,496.61 274.31,497.20 275.10,497.88 275.89,498.67 276.69,499.54 277.48,500.50 278.27,501.55 279.07,502.67 279.86,503.87 280.66,505.13 281.45,506.45 282.24,507.83 283.04,509.26 283.83,510.74 284.62,512.25 285.42,513.80 286.21,515.38 287.01,516.98 287.80,518.60 288.59,520.24 289.39,521.89 290.18,523.54 290.97,525.20 291.77,526.86 292.56,528.51 293.36,530.15 294.15,531.79 294.94,533.41 295.74,535.02 296.53,536.61 297.32,538.19 298.12,539.74 298.91,541.27 299.71,542.78 300.50,544.27 301.29,545.73 302.09,547.16 302.88,548.57 303.67,549.95 304.47,551.31 305.26,552.64 306.06,553.94 306.85,555.21 307.64,556.46 308.44,557.67 309.23,558.86 310.02,560.03 310.82,561.17 311.61,562.28 312.41,563.36 313.20,564.42 313.99,565.45 314.79,566.46 315.58,567.44 316.38,568.40 317.17,569.34 317.96,570.25 318.76,571.14 319.55,572.01 320.34,572.86 321.14,573.68 321.93,574.49 322.72,575.27 323.52,576.04 324.31,576.78 325.11,577.51 325.90,578.22 326.69,578.91 327.49,579.58 328.28,580.24 329.07,580.88 329.87,581.50 330.66,582.11 331.46,582.70 332.25,583.28 333.04,583.85 333.84,584.40 334.63,584.93 335.42,585.46 336.22,585.97 337.01,586.47 337.81,586.95 338.60,587.43 339.39,587.89 340.19,588.35 340.98,588.79 341.77,589.22 342.57,589.64 343.36,590.05 344.16,590.45 344.95,590.85 345.74,591.23 346.54,591.60 347.33,591.97 348.12,592.33 348.92,592.67 349.71,593.02 350.51,593.35 351.30,593.68 352.09,593.99 352.89,594.31 353.68,594.61 354.48,594.91 355.27,595.20 356.06,595.49 356.86,595.77 357.65,596.04 358.44,596.31 359.24,596.57 360.03,596.82 360.83,597.07 361.62,597.32 362.41,597.56 363.21,597.79 364.00,598.02 364.79,598.25 365.59,598.47 366.38,598.69 367.18,598.90 367.97,599.11 368.76,599.31 369.56,599.51 370.35,599.71 371.14,599.90 371.94,600.09 372.73,600.27 373.53,600.45 374.32,600.63 375.11,600.80 375.91,600.97 376.70,601.14 377.49,601.30 378.29,601.47 379.08,601.62 379.88,601.78 380.67,601.93 381.46,602.08 382.26,602.23 383.05,602.37 383.84,602.51 384.64,602.65 385.43,602.79 386.23,602.92 387.02,603.05 387.81,603.18 388.61,603.31 389.40,603.43 390.19,603.56 390.99,603.68 391.78,603.80 392.58,603.91 393.37,604.03 394.16,604.14 394.96,604.25 395.75,604.36 396.54,604.46 397.34,604.57 398.13,604.67 398.93,604.77 399.72,604.87 400.51,604.97 401.31,605.07 402.10,605.16 402.89,605.26 403.69,605.35 404.48,605.44 405.28,605.53 406.07,605.62 406.86,605.70 407.66,605.79 408.45,605.87 409.24,605.96 410.04,606.04 410.83,606.12 411.62,606.20 412.42,606.27 413.21,606.35 414.01,606.42 414.80,606.50 415.59,606.57 416.39,606.64 417.18,606.71 417.97,606.78 418.77,606.85 419.56,606.92 420.36,606.99 421.15,607.05 421.94,607.12 422.74,607.18 423.53,607.24 424.32,607.31 425.12,607.37 425.91,607.43 426.71,607.49 427.50,607.54" fill="none" stroke="#EB871E" stroke-width="2.9" stroke-linejoin="round"/>
<polyline points="110.00,599.27 110.79,599.14 111.59,599.01 112.38,598.88 113.17,598.75 113.97,598.61 114.76,598.47 115.56,598.33 116.35,598.19 117.14,598.04 117.94,597.89 118.73,597.74 119.53,597.59 120.32,597.43 121.11,597.27 121.91,597.11 122.70,596.94 123.49,596.78 124.29,596.60 125.08,596.43 125.88,596.25 126.67,596.07 127.46,595.88 128.26,595.69 129.05,595.50 129.84,595.30 130.64,595.10 131.43,594.89 132.23,594.69 133.02,594.47 133.81,594.25 134.61,594.03 135.40,593.80 136.19,593.57 136.99,593.34 137.78,593.09 138.57,592.85 139.37,592.60 140.16,592.34 140.96,592.08 141.75,591.81 142.54,591.53 143.34,591.25 144.13,590.97 144.93,590.67 145.72,590.37 146.51,590.07 147.31,589.75 148.10,589.43 148.89,589.10 149.69,588.77 150.48,588.42 151.28,588.07 152.07,587.71 152.86,587.34 153.66,586.97 154.45,586.58 155.24,586.18 156.04,585.78 156.83,585.36 157.62,584.94 158.42,584.50 159.21,584.05 160.01,583.60 160.80,583.13 161.59,582.64 162.39,582.15 163.18,581.64 163.98,581.12 164.77,580.59 165.56,580.04 166.36,579.48 167.15,578.90 167.94,578.31 168.74,577.70 169.53,577.07 170.32,576.43 171.12,575.77 171.91,575.09 172.71,574.39 173.50,573.67 174.29,572.93 175.09,572.18 175.88,571.40 176.67,570.59 177.47,569.77 178.26,568.92 179.06,568.04 179.85,567.14 180.64,566.21 181.44,565.26 182.23,564.28 183.02,563.26 183.82,562.22 184.61,561.14 185.41,560.04 186.20,558.90 186.99,557.72 187.79,556.51 188.58,555.26 189.38,553.97 190.17,552.64 190.96,551.27 191.76,549.86 192.55,548.40 193.34,546.90 194.14,545.35 194.93,543.76 195.73,542.11 196.52,540.41 197.31,538.66 198.11,536.86 198.90,535.00 199.69,533.08 200.49,531.11 201.28,529.07 202.08,526.97 202.87,524.81 203.66,522.59 204.46,520.30 205.25,517.94 206.04,515.52 206.84,513.03 207.63,510.47 208.43,507.85 209.22,505.15 210.01,502.39 210.81,499.56 211.60,496.67 212.39,493.71 213.19,490.69 213.98,487.61 214.78,484.47 215.57,481.28 216.36,478.03 217.16,474.75 217.95,471.42 218.74,468.07 219.54,464.69 220.33,461.29 221.12,457.89 221.92,454.50 222.71,451.11 223.51,447.76 224.30,444.44 225.09,441.18 225.89,437.99 226.68,434.88 227.47,431.88 228.27,428.98 229.06,426.23 229.86,423.62 230.65,421.17 231.44,418.91 232.24,416.84 233.03,414.99 233.82,413.36 234.62,411.97 235.41,410.82 236.21,409.94 237.00,409.31 237.79,408.96 238.59,408.88 239.38,409.07 240.17,409.53 240.97,410.26 241.76,411.25 242.56,412.49 243.35,413.98 244.14,415.70 244.94,417.64 245.73,419.79 246.52,422.13 247.32,424.64 248.11,427.31 248.91,430.13 249.70,433.07 250.49,436.12 251.29,439.26 252.08,442.48 252.88,445.76 253.67,449.10 254.46,452.46 255.26,455.85 256.05,459.25 256.84,462.65 257.64,466.04 258.43,469.41 259.23,472.76 260.02,476.07 260.81,479.34 261.61,482.56 262.40,485.73 263.19,488.85 263.99,491.90 264.78,494.90 265.57,497.84 266.37,500.70 267.16,503.51 267.96,506.24 268.75,508.91 269.54,511.50 270.34,514.03 271.13,516.50 271.93,518.89 272.72,521.22 273.51,523.48 274.31,525.68 275.10,527.82 275.89,529.89 276.69,531.90 277.48,533.86 278.27,535.75 279.07,537.59 279.86,539.37 280.66,541.10 281.45,542.78 282.24,544.40 283.04,545.98 283.83,547.51 284.62,548.99 285.42,550.43 286.21,551.83 287.01,553.18 287.80,554.49 288.59,555.76 289.39,557.00 290.18,558.19 290.97,559.36 291.77,560.48 292.56,561.58 293.36,562.64 294.15,563.67 294.94,564.67 295.74,565.64 296.53,566.59 297.32,567.50 298.12,568.39 298.91,569.26 299.71,570.10 300.50,570.92 301.29,571.71 302.09,572.48 302.88,573.23 303.67,573.96 304.47,574.67 305.26,575.36 306.06,576.03 306.85,576.69 307.64,577.32 308.44,577.94 309.23,578.55 310.02,579.13 310.82,579.70 311.61,580.26 312.41,580.80 313.20,581.33 313.99,581.85 314.79,582.35 315.58,582.84 316.38,583.32 317.17,583.78 317.96,584.23 318.76,584.68 319.55,585.11 320.34,585.53 321.14,585.94 321.93,586.34 322.72,586.74 323.52,587.12 324.31,587.49 325.11,587.86 325.90,588.21 326.69,588.56 327.49,588.90 328.28,589.24 329.07,589.56 329.87,589.88 330.66,590.19 331.46,590.49 332.25,590.79 333.04,591.08 333.84,591.36 334.63,591.64 335.42,591.92 336.22,592.18 337.01,592.44 337.81,592.70 338.60,592.95 339.39,593.19 340.19,593.43 340.98,593.67 341.77,593.90 342.57,594.12 343.36,594.34 344.16,594.56 344.95,594.77 345.74,594.98 346.54,595.18 347.33,595.38 348.12,595.58 348.92,595.77 349.71,595.96 350.51,596.14 351.30,596.32 352.09,596.50 352.89,596.67 353.68,596.84 354.48,597.01 355.27,597.18 356.06,597.34 356.86,597.50 357.65,597.65 358.44,597.80 359.24,597.95 360.03,598.10 360.83,598.25 361.62,598.39 362.41,598.53 363.21,598.67 364.00,598.80 364.79,598.93 365.59,599.06 366.38,599.19 367.18,599.32 367.97,599.44 368.76,599.56 369.56,599.68 370.35,599.80 371.14,599.91 371.94,600.03 372.73,600.14 373.53,600.25 374.32,600.36 375.11,600.46 375.91,600.57 376.70,600.67 377.49,600.77 378.29,600.87 379.08,600.97 379.88,601.07 380.67,601.16 381.46,601.25 382.26,601.35 383.05,601.44 383.84,601.53 384.64,601.61 385.43,601.70 386.23,601.79 387.02,601.87 387.81,601.95 388.61,602.03 389.40,602.11 390.19,602.19 390.99,602.27 391.78,602.35 392.58,602.42 393.37,602.50 394.16,602.57 394.96,602.64 395.75,602.71 396.54,602.78 397.34,602.85 398.13,602.92 398.93,602.99 399.72,603.06 400.51,603.12 401.31,603.19 402.10,603.25 402.89,603.31 403.69,603.37 404.48,603.43 405.28,603.49 406.07,603.55 406.86,603.61 407.66,603.67 408.45,603.73 409.24,603.78 410.04,603.84 410.83,603.89 411.62,603.95 412.42,604.00 413.21,604.05 414.01,604.11 414.80,604.16 415.59,604.21 416.39,604.26 417.18,604.31 417.97,604.36 418.77,604.40 419.56,604.45 420.36,604.50 421.15,604.55 421.94,604.59 422.74,604.64 423.53,604.68 424.32,604.72 425.12,604.77 425.91,604.81 426.71,604.85 427.50,604.90" fill="none" stroke="#E0081C" stroke-width="2.9" stroke-linejoin="round"/>
<line x1="110" y1="365.5" x2="110" y2="623.8" stroke="#000" stroke-width="2"/>
<line x1="109" y1="622.8" x2="428.5" y2="622.8" stroke="#000" stroke-width="2"/>
<line x1="104.5" y1="622.8" x2="110" y2="622.8" stroke="#000" stroke-width="1.6"/>
<text x="101.6" y="627.1" font-size="14.6" text-anchor="end" fill="#333">0</text>
<line x1="107" y1="604.5" x2="110" y2="604.5" stroke="#000" stroke-width="1.6"/>
<line x1="104.5" y1="586.2" x2="110" y2="586.2" stroke="#000" stroke-width="1.6"/>
<text x="101.6" y="590.5" font-size="14.6" text-anchor="end" fill="#333">20</text>
<line x1="107" y1="567.9" x2="110" y2="567.9" stroke="#000" stroke-width="1.6"/>
<line x1="104.5" y1="549.6" x2="110" y2="549.6" stroke="#000" stroke-width="1.6"/>
<text x="101.6" y="553.9" font-size="14.6" text-anchor="end" fill="#333">40</text>
<line x1="107" y1="531.3" x2="110" y2="531.3" stroke="#000" stroke-width="1.6"/>
<line x1="104.5" y1="513.0" x2="110" y2="513.0" stroke="#000" stroke-width="1.6"/>
<text x="101.6" y="517.3" font-size="14.6" text-anchor="end" fill="#333">60</text>
<line x1="107" y1="494.7" x2="110" y2="494.7" stroke="#000" stroke-width="1.6"/>
<line x1="104.5" y1="476.4" x2="110" y2="476.4" stroke="#000" stroke-width="1.6"/>
<text x="101.6" y="480.7" font-size="14.6" text-anchor="end" fill="#333">80</text>
<line x1="107" y1="458.1" x2="110" y2="458.1" stroke="#000" stroke-width="1.6"/>
<line x1="104.5" y1="439.8" x2="110" y2="439.8" stroke="#000" stroke-width="1.6"/>
<text x="101.6" y="444.1" font-size="14.6" text-anchor="end" fill="#333">100</text>
<line x1="107" y1="421.5" x2="110" y2="421.5" stroke="#000" stroke-width="1.6"/>
<line x1="104.5" y1="403.2" x2="110" y2="403.2" stroke="#000" stroke-width="1.6"/>
<text x="101.6" y="407.5" font-size="14.6" text-anchor="end" fill="#333">120</text>
<line x1="107" y1="384.9" x2="110" y2="384.9" stroke="#000" stroke-width="1.6"/>
<line x1="104.5" y1="366.6" x2="110" y2="366.6" stroke="#000" stroke-width="1.6"/>
<text x="101.6" y="370.9" font-size="14.6" text-anchor="end" fill="#333">140</text>
<line x1="110.0" y1="622.8" x2="110.0" y2="628" stroke="#000" stroke-width="1.6"/>
<text x="110.3" y="642.2" font-size="14.6" text-anchor="middle" fill="#333">1.0</text>
<line x1="149.7" y1="622.8" x2="149.7" y2="626" stroke="#000" stroke-width="1.6"/>
<line x1="189.4" y1="622.8" x2="189.4" y2="628" stroke="#000" stroke-width="1.6"/>
<text x="189.7" y="642.2" font-size="14.6" text-anchor="middle" fill="#333">1.5</text>
<line x1="229.1" y1="622.8" x2="229.1" y2="626" stroke="#000" stroke-width="1.6"/>
<line x1="268.8" y1="622.8" x2="268.8" y2="628" stroke="#000" stroke-width="1.6"/>
<text x="269.1" y="642.2" font-size="14.6" text-anchor="middle" fill="#333">2.0</text>
<line x1="308.4" y1="622.8" x2="308.4" y2="626" stroke="#000" stroke-width="1.6"/>
<line x1="348.1" y1="622.8" x2="348.1" y2="628" stroke="#000" stroke-width="1.6"/>
<text x="348.4" y="642.2" font-size="14.6" text-anchor="middle" fill="#333">2.5</text>
<line x1="387.8" y1="622.8" x2="387.8" y2="626" stroke="#000" stroke-width="1.6"/>
<line x1="427.5" y1="622.8" x2="427.5" y2="628" stroke="#000" stroke-width="1.6"/>
<text x="427.8" y="642.2" font-size="14.6" text-anchor="middle" fill="#333">3.0</text>
<text x="269.3" y="668.6" font-size="18" text-anchor="middle" fill="#222" stroke="#222" stroke-width="0.25">Frequency (MHz)</text>
<text transform="translate(72.3,494.3) rotate(-90)" font-size="18" text-anchor="middle" fill="#222" stroke="#222" stroke-width="0.25">Amplitude (µV)</text>
<rect x="321.1" y="384.3" width="77.3" height="57.1" fill="#fff" stroke="#808080" stroke-width="1"/>
<line x1="321.9" y1="395.2" x2="356.9" y2="395.2" stroke="#0A0AC8" stroke-width="2.8"/>
<text x="359.6" y="399.6" font-size="14.5" fill="#222" stroke="#222" stroke-width="0.2">26 °C</text>
<line x1="321.9" y1="413.2" x2="356.9" y2="413.2" stroke="#EB871E" stroke-width="2.8"/>
<text x="359.6" y="417.6" font-size="14.5" fill="#222" stroke="#222" stroke-width="0.2">32 °C</text>
<line x1="321.9" y1="431.4" x2="356.9" y2="431.4" stroke="#E0081C" stroke-width="2.8"/>
<text x="359.6" y="435.8" font-size="14.5" fill="#222" stroke="#222" stroke-width="0.2">37 °C</text>
</svg>
</body></html>
